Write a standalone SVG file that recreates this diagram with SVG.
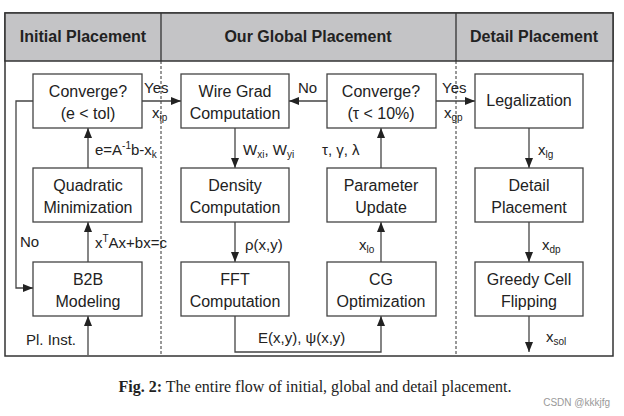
<svg xmlns="http://www.w3.org/2000/svg" width="624" height="416" viewBox="0 0 624 416">
<defs><marker id="a" viewBox="0 0 10 10" refX="10" refY="5" markerWidth="8" markerHeight="8" orient="auto"><path d="M0,1 L10,5 L0,9 z" fill="#222"/></marker></defs>
<style>
text{font-family:"Liberation Sans",Arial,sans-serif;fill:#222}
.b rect{fill:#fff;stroke:#444;stroke-width:1.3}
.b text{font-size:16px;text-anchor:middle}
.h{font-size:16px;font-weight:bold;text-anchor:middle}
.c path{fill:none;stroke:#444;stroke-width:1.3}
.ar{marker-end:url(#a)}
.l{font-size:15px}
.s{font-size:10px}
</style>
<rect x="5" y="13" width="608" height="343" fill="#fff" stroke="#333" stroke-width="1.5"/>
<rect x="5" y="13" width="608" height="48" fill="#c4c4c6" stroke="#333" stroke-width="1.5"/>
<line x1="161" y1="13" x2="161" y2="61" stroke="#333" stroke-width="1.3"/>
<line x1="456" y1="13" x2="456" y2="61" stroke="#333" stroke-width="1.3"/>
<line x1="161" y1="61" x2="161" y2="356" stroke="#333" stroke-dasharray="3,2"/>
<line x1="456" y1="61" x2="456" y2="356" stroke="#333" stroke-dasharray="3,2"/>
<text class="h" x="83" y="42">Initial Placement</text>
<text class="h" x="308" y="42">Our Global Placement</text>
<text class="h" x="534" y="42">Detail Placement</text>
<g class="c">
<path class="ar" d="M142,101 H181"/>
<path class="ar" d="M436,101 H475"/>
<path class="ar" d="M327,101 H289"/>
<path class="ar" d="M33,101 H16 V288 H33"/>
<path class="ar" d="M88,168 V128"/>
<path class="ar" d="M88,262 V222"/>
<path class="ar" d="M88,355 V316"/>
<path class="ar" d="M235,128 V168"/>
<path class="ar" d="M235,222 V262"/>
<path class="ar" d="M235,316 V352 H381 V316"/>
<path class="ar" d="M381,262 V222"/>
<path class="ar" d="M381,168 V128"/>
<path class="ar" d="M529,128 V168"/>
<path class="ar" d="M529,222 V262"/>
<path class="ar" d="M529,316 V352"/>
</g>
<g class="l">
<text x="144" y="93">Yes</text>
<text x="152" y="118">x<tspan class="s" dy="3">ip</tspan></text>
<text x="442" y="93">Yes</text>
<text x="444" y="118">x<tspan class="s" dy="3">gp</tspan></text>
<text x="298" y="93">No</text>
<text x="20" y="247">No</text>
<text x="95" y="155">e=A<tspan class="s" dy="-6">-1</tspan><tspan dy="6">b-x</tspan><tspan class="s" dy="3">k</tspan></text>
<text x="95" y="248">x<tspan class="s" dy="-6">T</tspan><tspan dy="6">Ax+bx=c</tspan></text>
<text x="26" y="345">Pl. Inst.</text>
<text x="243" y="155">W<tspan class="s" dy="3">xi</tspan><tspan dy="-3">, W</tspan><tspan class="s" dy="3">yi</tspan></text>
<text x="245" y="250">ρ(x,y)</text>
<text x="258" y="343">E(x,y), ψ(x,y)</text>
<text x="322" y="155">τ, γ, λ</text>
<text x="359" y="250">x<tspan class="s" dy="3">lo</tspan></text>
<text x="538" y="155">x<tspan class="s" dy="3">lg</tspan></text>
<text x="542" y="250">x<tspan class="s" dy="3">dp</tspan></text>
<text x="546" y="342">x<tspan class="s" dy="3">sol</tspan></text>
</g>
<g id="n1" class="b"><rect x="33" y="74" width="109" height="54"/><text x="88" y="97">Converge?</text><text x="88" y="119">(e &lt; tol)</text></g>
<g id="n2" class="b"><rect x="33" y="168" width="109" height="54"/><text x="88" y="191">Quadratic</text><text x="88" y="213">Minimization</text></g>
<g id="n3" class="b"><rect x="33" y="262" width="109" height="54"/><text x="88" y="285">B2B</text><text x="88" y="307">Modeling</text></g>
<g id="n4" class="b"><rect x="181" y="74" width="108" height="54"/><text x="235" y="97">Wire Grad</text><text x="235" y="119">Computation</text></g>
<g id="n5" class="b"><rect x="181" y="168" width="108" height="54"/><text x="235" y="191">Density</text><text x="235" y="213">Computation</text></g>
<g id="n6" class="b"><rect x="181" y="262" width="108" height="54"/><text x="235" y="285">FFT</text><text x="235" y="307">Computation</text></g>
<g id="n7" class="b"><rect x="327" y="74" width="109" height="54"/><text x="381" y="97">Converge?</text><text x="381" y="119">(τ &lt; 10%)</text></g>
<g id="n8" class="b"><rect x="327" y="168" width="109" height="54"/><text x="381" y="191">Parameter</text><text x="381" y="213">Update</text></g>
<g id="n9" class="b"><rect x="327" y="262" width="109" height="54"/><text x="381" y="285">CG</text><text x="381" y="307">Optimization</text></g>
<g id="n10" class="b"><rect x="475" y="74" width="108" height="54"/><text x="529" y="106">Legalization</text></g>
<g id="n11" class="b"><rect x="475" y="168" width="108" height="54"/><text x="529" y="191">Detail</text><text x="529" y="213">Placement</text></g>
<g id="n12" class="b"><rect x="475" y="262" width="108" height="54"/><text x="529" y="285">Greedy Cell</text><text x="529" y="307">Flipping</text></g>
<text x="315" y="392" style="font-family:'Liberation Serif',serif;font-size:16px;text-anchor:middle"><tspan font-weight="bold">Fig. 2:</tspan> The entire flow of initial, global and detail placement.</text>
<text x="610" y="406" style="font-size:10px;text-anchor:end;fill:#999">CSDN @kkkjfg</text>
</svg>
